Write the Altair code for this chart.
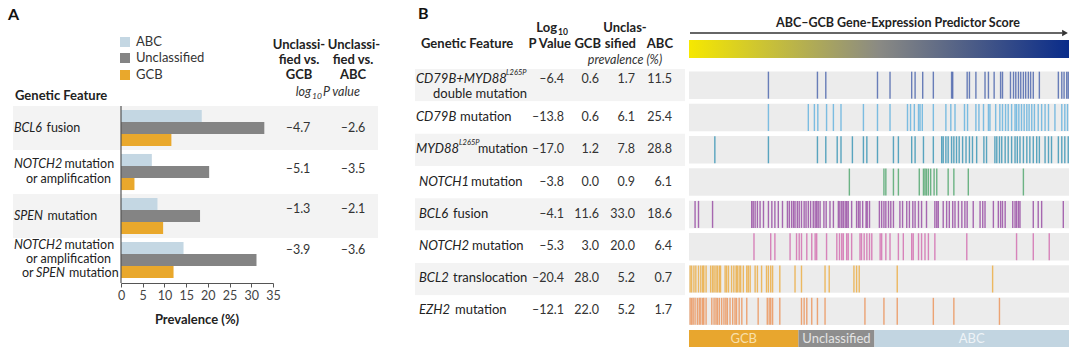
import altair as alt
import pandas as pd

FONT = "Lato"

# ---------------- Panel A data ----------------
a_features = ["BCL6 fusion", "NOTCH2 mutation or amplification", "SPEN mutation",
              "NOTCH2 mutation or amplification or SPEN mutation"]
a_groups = ["ABC", "Unclassified", "GCB"]
a_abc = [18.6, 7.1, 8.4, 14.4]
a_unc = [33.0, 20.3, 18.2, 31.2]
a_gcb = [11.6, 3.1, 9.7, 12.1]
a_logp_vs_gcb = [-4.7, -5.1, -1.3, -3.9]
a_logp_vs_abc = [-2.6, -3.5, -2.1, -3.6]
a_axis_ticks = [0, 5, 10, 15, 20, 25, 30, 35]

# ---------------- Panel B data ----------------
b_features = ["CD79B+MYD88 L265P double mutation", "CD79B mutation", "MYD88 L265P mutation",
              "NOTCH1 mutation", "BCL6 fusion", "NOTCH2 mutation", "BCL2 translocation",
              "EZH2 mutation"]
b_logp = [-6.4, -13.8, -17.0, -3.8, -4.1, -5.3, -20.4, -12.1]
b_gcb = [0.6, 0.6, 1.2, 0.0, 11.6, 3.0, 28.0, 22.0]
b_unc = [1.7, 6.1, 7.8, 0.9, 33.0, 20.0, 5.2, 5.2]
b_abc = [11.5, 25.4, 28.8, 6.1, 18.6, 6.4, 0.7, 1.7]

# predictor-score positions (0 = most GCB-like, 100 = most ABC-like) of cases with each feature
s_cd79b_myd88 = [20.9, 33.8, 36.0, 49.6, 52.9, 58.6, 59.5, 61.5, 64.3, 69.1, 69.4, 73.2, 73.8,
                 75.5, 77.9, 78.8, 80.3, 82.0, 82.5, 84.6, 85.4, 86.0, 86.7, 87.3, 88.0, 88.6,
                 89.3, 89.9, 90.6, 92.2, 97.2, 98.1, 98.7, 99.4, 99.8]
s_cd79b = [20.9, 31.4, 33.0, 33.9, 36.2, 38.0, 40.0, 45.9, 49.6, 52.9, 57.5, 58.3, 59.3, 60.4,
           60.8, 61.4, 64.3, 67.6, 68.9, 70.0, 72.5, 73.3, 75.5, 76.3, 77.5, 78.8, 79.2, 80.7,
           81.8, 82.5, 83.3, 84.0, 84.9, 85.8, 86.2, 86.8, 87.5, 88.2, 88.9, 89.5, 90.2, 90.9,
           91.9, 92.8, 93.7, 94.6, 96.3, 98.1, 98.9, 99.6]
s_myd88 = [6.8, 20.9, 33.8, 36.0, 39.0, 40.0, 43.0, 45.9, 46.8, 49.6, 53.8, 55.1, 58.6, 59.5,
           61.7, 64.3, 66.5, 66.9, 67.6, 68.2, 69.1, 69.7, 70.4, 71.1, 72.0, 72.9, 73.8, 74.6,
           75.7, 77.6, 78.3, 80.5, 81.0, 81.7, 82.3, 83.2, 84.0, 84.9, 85.8, 86.4, 87.1, 88.0,
           88.9, 89.7, 90.6, 91.5, 92.2, 93.7, 94.6, 95.4, 97.2, 98.1, 98.9, 99.8]
s_notch1 = [42.2, 51.3, 51.8, 53.8, 55.1, 60.6, 61.7, 62.1, 62.5, 63.0, 63.6, 64.5, 65.2, 68.2,
            69.7, 73.5, 88.0]
s_bcl6 = [1.6, 2.5, 6.2, 16.5, 16.9, 17.4, 18.0, 18.7, 19.6, 20.9, 21.8, 22.6, 23.5, 24.6, 25.9,
          26.4, 27.0, 27.5, 27.9, 28.5, 29.0, 29.6, 30.3, 30.8, 31.4, 32.0, 32.7, 33.2, 33.6,
          34.0, 34.5, 35.5, 36.1, 37.1, 38.0, 39.3, 39.7, 40.2, 40.6, 41.1, 41.5, 41.9, 42.8,
          44.1, 44.6, 45.0, 45.7, 46.6, 46.9, 47.5, 50.1, 50.7, 51.3, 51.8, 52.5, 53.1, 53.8,
          55.5, 56.2, 57.3, 58.0, 58.9, 59.5, 60.4, 61.2, 62.5, 64.7, 65.2, 65.6, 66.9, 67.8,
          68.5, 69.4, 70.0, 70.9, 71.8, 72.6, 73.2, 74.8, 76.6, 77.3, 77.9, 80.1, 81.4, 82.0,
          82.5, 83.2, 85.2, 85.8, 86.2, 86.7, 87.1, 90.6, 91.9, 92.8, 98.5]
s_notch2 = [17.1, 21.5, 22.6, 26.6, 28.3, 29.0, 29.6, 31.0, 32.3, 33.2, 33.6, 36.2, 38.9, 39.6,
            40.2, 40.6, 41.5, 41.9, 42.8, 45.0, 45.4, 46.1, 46.8, 47.5, 48.1, 50.3, 50.7, 51.8,
            52.9, 55.1, 56.4, 58.6, 59.0, 60.4, 61.2, 62.1, 63.0, 64.7, 73.1, 86.2, 90.6, 94.8]
s_bcl2 = [0.3, 0.7, 1.3, 1.8, 2.5, 3.1, 3.6, 3.9, 4.5, 5.7, 6.2, 6.6, 7.1, 7.5, 8.0, 8.3, 9.5,
          9.9, 10.4, 11.2, 11.8, 12.4, 12.7, 13.2, 13.6, 14.3, 15.2, 15.6, 16.1, 17.4, 18.0,
          19.1, 20.4, 20.9, 21.5, 22.0, 23.9, 27.9, 29.6, 35.8, 36.9, 43.4, 44.1, 44.8, 54.8,
          79.9]
s_ezh2 = [0.3, 0.7, 1.1, 1.6, 2.2, 2.7, 3.1, 3.6, 3.9, 4.5, 6.0, 6.6, 7.1, 7.5, 8.0, 8.6, 9.2,
          9.7, 10.1, 10.8, 11.5, 12.1, 12.5, 13.2, 13.9, 15.2, 18.2, 20.6, 21.1, 21.5, 22.0,
          23.9, 29.6, 30.3, 31.0, 32.3, 33.8, 35.8, 46.3, 51.3, 54.8, 64.3, 69.7, 81.7]
b_score_lists = [s_cd79b_myd88, s_cd79b, s_myd88, s_notch1, s_bcl6, s_notch2, s_bcl2, s_ezh2]

classes = ["GCB", "Unclassified", "ABC"]
class_start = [0.0, 28.8, 48.8]
class_end = [28.8, 48.8, 100.0]

# ---------------- styles / layout ----------------
bar_colors = ["#c4d7e3", "#848484", "#e9a82c"]
tick_colors = ["#3552a3", "#4fa9dc", "#1f88ad", "#3a9d5b", "#8a3398", "#cf5aa6", "#eca42a", "#eb8744"]
class_colors = ["#e8a62e", "#8e8e8e", "#c2d5e1"]
class_text_colors = ["#f8e0ac", "#e4e4e4", "#eef3f7"]
A_ROWS = [106, 282]
A_X = [121, 273]
B_ROWS = [69, 327.5]
B_X = [689, 1069]
a_shade = ["#f3f3f3", "#ffffff", "#f3f3f3", "#ffffff"]
b_shade = ["#f3f3f3", "#ffffff"] * 4
a_pval_y = [128, 169, 209, 250]
b_row_y = [79, 117, 149, 182, 214, 246, 278, 310]
BODY = 13
ALBL = 12.5
NUM = 12.5


def fmt(v):
    return f"{v:.1f}".replace("-", "\u2013")


def texts(rows, size=BODY, weight="normal", style="normal", align="left", color="#222222"):
    df = pd.DataFrame(rows, columns=["t", "x", "y"])
    return alt.Chart(df).mark_text(
        font=FONT, fontSize=size, fontWeight=weight, fontStyle=style, align=align,
        baseline="middle", color=color
    ).encode(
        x=alt.X("x:Q", scale=None, axis=None),
        y=alt.Y("y:Q", scale=None, axis=None),
        text="t:N",
    )


layers = []

# ---------- Panel A ----------
a_bg = pd.DataFrame({"feature": a_features, "shade": a_shade})
layers.append(
    alt.Chart(a_bg).mark_rect().encode(
        x=alt.value(13), x2=alt.value(378),
        y=alt.Y("feature:N", scale=alt.Scale(domain=a_features, range=A_ROWS,
                                             paddingInner=0, paddingOuter=0), axis=None),
        color=alt.Color("shade:N", scale=None),
    )
)

a_long = pd.DataFrame(
    [{"feature": f, "group": g, "value": v}
     for i, f in enumerate(a_features)
     for g, v in zip(a_groups, [a_abc[i], a_unc[i], a_gcb[i]])]
)
layers.append(
    alt.Chart(a_long).mark_bar().encode(
        x=alt.X("value:Q",
                scale=alt.Scale(domain=[0, 35], range=A_X, nice=False, zero=True),
                axis=alt.Axis(values=a_axis_ticks, offset=-69, title=None, grid=False,
                              domainColor="#555555", tickColor="#555555", tickSize=4,
                              labelColor="#444444", labelFont=FONT, labelFontSize=12.5,
                              labelPadding=2, domainWidth=1.2, labelFlush=False,
                              labelOverlap=False)),
        y=alt.Y("feature:N", scale=alt.Scale(domain=a_features, range=A_ROWS,
                                             paddingInner=0.18, paddingOuter=0.09), axis=None),
        yOffset=alt.YOffset("group:N", scale=alt.Scale(domain=a_groups, paddingInner=0,
                                                       paddingOuter=0)),
        color=alt.Color("group:N", scale=alt.Scale(domain=a_groups, range=bar_colors),
                        legend=None),
    )
)
layers.append(
    alt.Chart(pd.DataFrame({"a": [0]})).mark_rule(color="#555555", strokeWidth=1.2).encode(
        x=alt.value(121), y=alt.value(106), y2=alt.value(283)
    )
)

# legend
leg = pd.DataFrame({"group": a_groups, "x": [125, 125, 125], "y": [42, 58, 75],
                    "c": bar_colors})
layers.append(
    alt.Chart(leg).mark_square(size=100, opacity=1).encode(
        x=alt.X("x:Q", scale=None, axis=None), y=alt.Y("y:Q", scale=None, axis=None),
        color=alt.Color("c:N", scale=None),
    )
)
layers.append(texts([(g, 136, y) for g, y in zip(a_groups, [42, 58, 75])], color="#333333"))

layers.append(texts([("A", 8, 15)], size=16, weight="bold", color="#111111"))
layers.append(texts([("Genetic Feature", 15, 96)], weight="bold"))
layers.append(texts([("Unclassi-", 299, 45), ("fied vs.", 299, 60), ("GCB", 299, 75),
                     ("Unclassi-", 354, 45), ("fied vs.", 353, 60), ("ABC", 353, 75)],
                    weight="bold", align="center"))
layers.append(texts([("log", 311, 92)], size=12.5, style="italic", align="right",
                    color="#333333"))
layers.append(texts([("P value", 323, 92)], size=12.5, style="italic", color="#333333"))
layers.append(texts([("10", 312, 96)], size=8.5, style="italic", color="#333333"))

pv_rows = []
for i in range(len(a_features)):
    pv_rows.append((fmt(a_logp_vs_gcb[i]), 298, a_pval_y[i]))
    pv_rows.append((fmt(a_logp_vs_abc[i]), 353, a_pval_y[i]))
layers.append(texts(pv_rows, size=NUM, align="center", color="#333333"))

layers.append(texts([("BCL6", 14, 128), ("NOTCH2", 14, 164), ("SPEN", 14, 216),
                     ("NOTCH2", 14, 245), ("SPEN", 36, 273)], size=ALBL, style="italic"))
layers.append(texts([("fusion", 46.5, 128), ("mutation", 64.5, 164), ("or amplification", 26, 179),
                     ("mutation", 47.5, 216), ("mutation", 64.5, 245), ("or amplification", 26, 259),
                     ("or", 22, 273), ("mutation", 69, 273)], size=ALBL))
layers.append(texts([("Prevalence (%)", 197, 320)], weight="bold", align="center"))

# ---------- Panel B ----------
b_bg = pd.DataFrame({"feature": b_features, "shade": b_shade})
layers.append(
    alt.Chart(b_bg).mark_rect().encode(
        x=alt.value(415), x2=alt.value(685),
        y=alt.Y("feature:N", scale=alt.Scale(domain=b_features, range=B_ROWS,
                                             paddingInner=0, paddingOuter=0), axis=None),
        color=alt.Color("shade:N", scale=None),
    )
)

strip_bg = pd.DataFrame({"feature": b_features, "s0": [0] * 8, "s1": [100] * 8})
layers.append(
    alt.Chart(strip_bg).mark_rect(color="#ececec").encode(
        x=alt.X("s0:Q", scale=alt.Scale(domain=[0, 100], range=B_X, nice=False, zero=False),
                axis=None),
        x2="s1:Q",
        y=alt.Y("feature:N", scale=alt.Scale(domain=b_features, range=B_ROWS,
                                             paddingInner=0.15, paddingOuter=0.075), axis=None),
    )
)

tick_df = pd.DataFrame(
    [{"feature": f, "score": s} for f, lst in zip(b_features, b_score_lists) for s in lst]
)
layers.append(
    alt.Chart(tick_df).mark_tick(thickness=1.4, size=27, opacity=0.72).encode(
        x=alt.X("score:Q", scale=alt.Scale(domain=[0, 100], range=B_X, nice=False, zero=False),
                axis=None),
        y=alt.Y("feature:N", scale=alt.Scale(domain=b_features, range=B_ROWS,
                                             paddingInner=0.15, paddingOuter=0.075), axis=None),
        color=alt.Color("feature:N", scale=alt.Scale(domain=b_features, range=tick_colors),
                        legend=None),
    )
)

cls_df = pd.DataFrame({"cls": classes, "start": class_start, "end": class_end,
                       "c": class_colors, "tc": class_text_colors})
layers.append(
    alt.Chart(cls_df).mark_rect().encode(
        x=alt.X("start:Q", scale=alt.Scale(domain=[0, 100], range=B_X, nice=False, zero=False),
                axis=None),
        x2="end:Q",
        y=alt.value(330), y2=alt.value(347),
        color=alt.Color("c:N", scale=None),
    )
)
layers.append(
    alt.Chart(cls_df).transform_calculate(mid="(datum.start + datum.end) / 2")
    .mark_text(font=FONT, fontSize=BODY, baseline="middle", align="center").encode(
        x=alt.X("mid:Q", scale=alt.Scale(domain=[0, 100], range=B_X, nice=False, zero=False),
                axis=None),
        y=alt.value(339),
        text="cls:N",
        color=alt.Color("tc:N", scale=None),
    )
)

# gradient bar + arrow
layers.append(
    alt.Chart(pd.DataFrame({"a": [0]})).mark_rect(
        color=alt.Gradient(gradient="linear", x1=0, x2=1, y1=0, y2=0,
                           stops=[alt.GradientStop(color="#f6e800", offset=0),
                                  alt.GradientStop(color="#8a8a84", offset=0.5),
                                  alt.GradientStop(color="#0a2c8a", offset=1)])
    ).encode(x=alt.value(689), x2=alt.value(1069), y=alt.value(40), y2=alt.value(58))
)
layers.append(
    alt.Chart(pd.DataFrame({"a": [0]})).mark_rule(color="#333333", strokeWidth=1.3).encode(
        x=alt.value(690), x2=alt.value(1062), y=alt.value(33)
    )
)
layers.append(
    alt.Chart(pd.DataFrame({"a": [0]})).mark_point(shape="triangle-right", filled=True,
                                                   size=45, color="#333333", opacity=1).encode(
        x=alt.value(1065), y=alt.value(33)
    )
)
layers.append(texts([("ABC\u2013GCB Gene-Expression Predictor Score", 898, 23)],
                    size=12.5, weight="bold", align="center"))

# table headers
layers.append(texts([("B", 418, 14)], size=16, weight="bold", color="#111111"))
layers.append(texts([("Genetic Feature", 421, 44)], weight="bold"))
layers.append(texts([("Log", 557, 28)], weight="bold", align="right"))
layers.append(texts([("10", 558, 32)], size=8.5, weight="bold"))
layers.append(texts([("P Value", 571, 44), ("GCB", 601, 44), ("sified", 636, 44),
                     ("ABC", 673, 44)], weight="bold", align="right"))
layers.append(texts([("Unclas-", 625, 28)], weight="bold", align="center"))
layers.append(texts([("prevalence (%)", 625, 60)], size=12.5, style="italic", align="center",
                    color="#333333"))

# table row labels
layers.append(texts([("CD79B+MYD88", 416, 79), ("CD79B", 416, 117), ("MYD88", 416, 149),
                     ("NOTCH1", 419, 182), ("BCL6", 419, 214), ("NOTCH2", 419, 246),
                     ("BCL2", 419, 278), ("EZH2", 419, 310)], style="italic"))
layers.append(texts([("L265P", 506, 73), ("L265P", 459, 143)], size=7.5, style="italic"))
layers.append(texts([("double mutation", 433, 94), ("mutation", 460, 117),
                     ("mutation", 471, 182), ("fusion", 453, 214), ("mutation", 472, 246),
                     ("translocation", 453, 278), ("mutation", 455, 310)]))
layers.append(texts([("mutation", 478, 149)], size=12.5))

num_rows = []
for i in range(len(b_features)):
    num_rows.append((fmt(b_logp[i]), 564, b_row_y[i]))
    num_rows.append((fmt(b_gcb[i]), 599, b_row_y[i]))
    num_rows.append((fmt(b_unc[i]), 635, b_row_y[i]))
    num_rows.append((fmt(b_abc[i]), 672, b_row_y[i]))
layers.append(texts(num_rows, size=NUM, align="right", color="#333333"))

chart = alt.layer(*layers).resolve_scale(
    x="independent", y="independent", color="independent"
).properties(
    width=1080, height=352, autosize=alt.AutoSizeParams(type="none"), padding=0,
    background="white"
).configure_view(stroke=None)

chart.save("out.html", embed_options={"renderer": "svg", "actions": False})
